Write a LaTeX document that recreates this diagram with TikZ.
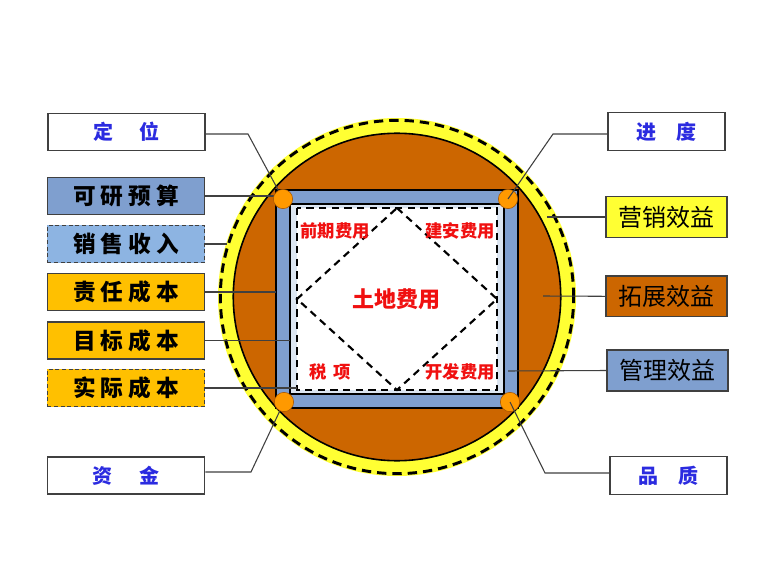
\documentclass[tikz,border=0pt]{standalone}
\usepackage{fontspec}
\setmainfont{Noto Sans CJK SC}
\usetikzlibrary{calc}
\definecolor{brownc}{HTML}{CC6600}
\definecolor{yel}{HTML}{FFFF33}
\definecolor{framebl}{HTML}{7F9FCF}
\definecolor{lightbl}{HTML}{8DB4E2}
\definecolor{goldc}{HTML}{FFC000}
\definecolor{orangec}{HTML}{FF9900}
\definecolor{bluetxt}{HTML}{2B2BE0}
\definecolor{redtxt}{HTML}{F01010}
\definecolor{edge}{HTML}{404040}
\definecolor{paleblue}{HTML}{DCE6F2}
\newcommand{\cgap}{\hspace{3.8pt}}
\tikzset{
 lbox/.style={draw=edge, line width=1.1pt, minimum width=118pt, minimum height=28pt, inner sep=0pt, font=\fontsize{17}{17}\selectfont\bfseries},
 wbox/.style={lbox, fill=white, text=bluetxt, font=\fontsize{15}{15}\selectfont\bfseries},
 rbox/.style={draw=edge, line width=1.1pt, minimum width=91pt, minimum height=30.5pt, inner sep=0pt, font=\fontsize{18}{18}\selectfont},
 rwbox/.style={rbox, minimum width=88pt, minimum height=28.5pt, fill=white, text=bluetxt, font=\fontsize{15}{15}\selectfont\bfseries},
 conn/.style={draw=edge, line width=0.8pt},
 dot/.style={circle, fill=orangec, draw=brownc!80!black, line width=0.4pt, minimum size=14.5pt, inner sep=0pt},
 redlab/.style={text=redtxt, font=\fontsize{13}{13}\selectfont\bfseries, inner sep=0pt},
 dashline/.style={draw=black, line width=1.6pt, dash pattern=on 5.5pt off 4pt},
}
\begin{document}
\begin{tikzpicture}[x=0.75pt,y=-0.75pt]
\useasboundingbox[fill=white] (0,0) rectangle (760,570);
% rings
\coordinate (C) at (397,297);
\fill[yel] (C) circle[radius=134.25pt];
\draw[black, line width=2.2pt, dash pattern=on 7pt off 4.5pt] (C) circle[radius=132.5pt];
\draw[black, line width=1.2pt, fill=brownc] (C) circle[radius=122.8pt];
% frame
\coordinate (fo1) at (276,190);
\coordinate (fo2) at (518,408);
\coordinate (fi1) at (290,204);
\coordinate (fi2) at (504,394);
\coordinate (fw1) at (297,208);
\coordinate (fw2) at (497,390);
\draw[black, line width=1pt, fill=framebl] (fo1) rectangle (fo2);
\draw[black, line width=1pt, fill=paleblue] (fi1) rectangle (fi2);
\fill[white] (fw1) rectangle (fw2);
\draw[dashline] (fw1) rectangle (fw2);
% diamond
\coordinate (dt) at (397,208);
\coordinate (dr) at (497,299);
\coordinate (db) at (397,390);
\coordinate (dl) at (297,299);
\draw[dashline] (dt) -- (dr) -- (db) -- (dl) -- cycle;
% inner labels
\node[redlab, font=\fontsize{16.5}{16.5}\selectfont\bfseries] (tudi) at (396,299) {土地费用};
\node[redlab] (qianqi) at (335,231) {前期费用};
\node[redlab] (jianan) at (460,231) {建安费用};
\node[redlab] (shuixiang) at (330,372) {税\hspace{5.5pt}项};
\node[redlab] (kaifa) at (460,372) {开发费用};
% left boxes
\node[wbox] (dingwei) at (126.5,132) {定\hspace{20pt}位};
\node[lbox, fill=framebl] (keyan) at (126,196) {可\cgap 研\cgap 预\cgap 算};
\node[lbox, fill=lightbl, dash pattern=on 3pt off 2pt] (xiaoshou) at (126,244) {销\cgap 售\cgap 收\cgap 入};
\node[lbox, fill=goldc] (zeren) at (126,292) {责\cgap 任\cgap 成\cgap 本};
\node[lbox, fill=goldc] (mubiao) at (126,340.5) {目\cgap 标\cgap 成\cgap 本};
\node[lbox, fill=goldc, dash pattern=on 3pt off 2pt] (shiji) at (126,388) {实\cgap 际\cgap 成\cgap 本};
\node[wbox] (zijin) at (126,475.5) {资\hspace{20pt}金};
% right boxes
\node[rwbox] (jindu) at (666.5,131.7) {进\hspace{15pt}度};
\node[rbox, fill=yel] (yingxiao) at (666.5,217) {营销效益};
\node[rbox, fill=brownc] (tuozhan) at (666.5,296.3) {拓展效益};
\node[rbox, fill=framebl] (guanli) at (667.5,370.5) {管理效益};
\node[rwbox] (pinzhi) at (668.5,475.5) {品\hspace{15pt}质};
% connector ends
\coordinate (xsEnd) at (227,244);
\coordinate (yxEnd) at (547,217);
\coordinate (tzEnd) at (543,296);
\coordinate (glEnd) at (508,371);
% left connectors
\draw[conn] (dingwei.east |- 0,134) -- (248,134) coordinate (dwBend) -- (283,199);
\draw[conn] (keyan.east) -- (keyan.east -| fo1);
\draw[conn] (xiaoshou.east) -- (xsEnd);
\draw[conn] (zeren.east) -- (zeren.east -| fo1);
\draw[conn] (mubiao.east) -- (mubiao.east -| fi1);
\draw[conn] (shiji.east) -- (shiji.east -| fw1);
\draw[conn] (zijin.east |- 0,472) -- (251,472) coordinate (zjBend) -- (284,402);
% dots
\node[dot] (ctl) at (283,199) {};
\node[dot] (ctr) at (508,199) {};
\node[dot] (cbl) at (284,402) {};
\node[dot] (cbr) at (510,402) {};
% right connectors
\draw[conn] (jindu.west |- 0,134) -- (553,134) coordinate (jdBend) -- (ctr.center);
\draw[conn] (yingxiao.west) -- (yxEnd);
\draw[conn] (tuozhan.west) -- (tzEnd);
\draw[conn] (guanli.west) -- (glEnd);
\draw[conn] (pinzhi.west |- 0,473) -- (545,473) coordinate (pzBend) -- (cbr.center);
\end{tikzpicture}
\end{document}
